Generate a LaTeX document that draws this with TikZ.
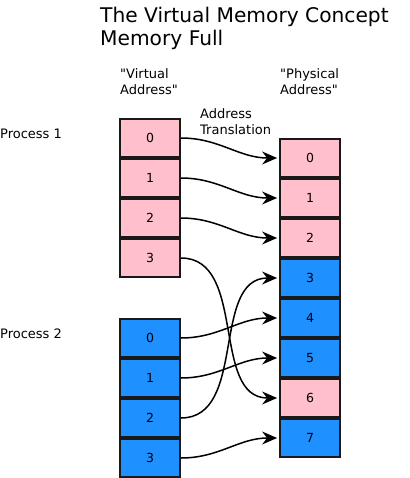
\documentclass[tikz,border=0pt]{standalone}
\usepackage{fontspec}
\setmainfont{DejaVu Sans}
\usetikzlibrary{arrows.meta}
\definecolor{pagepink}{RGB}{255,192,203}
\definecolor{pageblue}{RGB}{30,144,255}
\begin{document}
\begin{tikzpicture}[
		x=1pt, y=-1pt,
		% okvir za jednu stranicu memorije
		pagebox/.style={draw=black!90, line width=1.8pt, minimum width=60pt, minimum height=38pt, inner sep=0pt, font=\fontsize{12.5}{14}\selectfont},
		% tekst; kod vise redaka sidro je na zadnjem retku
		label/.style={anchor=base west, inner sep=0pt, align=left, font=\fontsize{13}{15.5}\selectfont},
		map/.style={line width=1.5pt, -{Stealth[length=15pt, width=13pt, inset=5pt]}, out=0, in=180}
		]
		\useasboundingbox (0,0) rectangle (409,478);
		% naslov
		\node[label, font=\fontsize{20.2}{23}\selectfont] (title) at (100,45.5) {The Virtual Memory Concept\\Memory Full};
		\node[label] (virtlabel) at (120,94.5) {\textquotedbl Virtual\\Address\textquotedbl};
		\node[label] (physlabel) at (280,94.5) {\textquotedbl Physical\\Address\textquotedbl};
		\node[label] (translabel) at (200,134.5) {Address\\Translation};
		\node[label] (proc1) at (0,138.5) {Process 1};
		\node[label] (proc2) at (0,338.5) {Process 2};
		% virtualne stranice, proces 1
		\node[pagebox, fill=pagepink] (a0) at (150,138) {0};
		\node[pagebox, fill=pagepink] (a1) at (150,178) {1};
		\node[pagebox, fill=pagepink] (a2) at (150,218) {2};
		\node[pagebox, fill=pagepink] (a3) at (150,258) {3};
		% virtualne stranice, proces 2
		\node[pagebox, fill=pageblue] (b0) at (150,338) {0};
		\node[pagebox, fill=pageblue] (b1) at (150,378) {1};
		\node[pagebox, fill=pageblue] (b2) at (150,418) {2};
		\node[pagebox, fill=pageblue] (b3) at (150,458) {3};
		% fizicke stranice
		\node[pagebox, fill=pagepink] (p0) at (310,158) {0};
		\node[pagebox, fill=pagepink] (p1) at (310,198) {1};
		\node[pagebox, fill=pagepink] (p2) at (310,238) {2};
		\node[pagebox, fill=pageblue] (p3) at (310,278) {3};
		\node[pagebox, fill=pageblue] (p4) at (310,318) {4};
		\node[pagebox, fill=pageblue] (p5) at (310,358) {5};
		\node[pagebox, fill=pagepink] (p6) at (310,398) {6};
		\node[pagebox, fill=pageblue] (p7) at (310,438) {7};
		% preslikavanje
		\draw[map] (a0.east) to ([xshift=-2pt]p0.west);
		\draw[map] (a1.east) to ([xshift=-2pt]p1.west);
		\draw[map] (a2.east) to ([xshift=-2pt]p2.west);
		\draw[map] (a3.east) to ([xshift=-2pt]p6.west);
		\draw[map] (b0.east) to ([xshift=-2pt]p4.west);
		\draw[map] (b1.east) to ([xshift=-2pt]p5.west);
		\draw[map] (b2.east) to ([xshift=-2pt]p3.west);
		\draw[map] (b3.east) to ([xshift=-2pt]p7.west);
	\end{tikzpicture}
\end{document}
